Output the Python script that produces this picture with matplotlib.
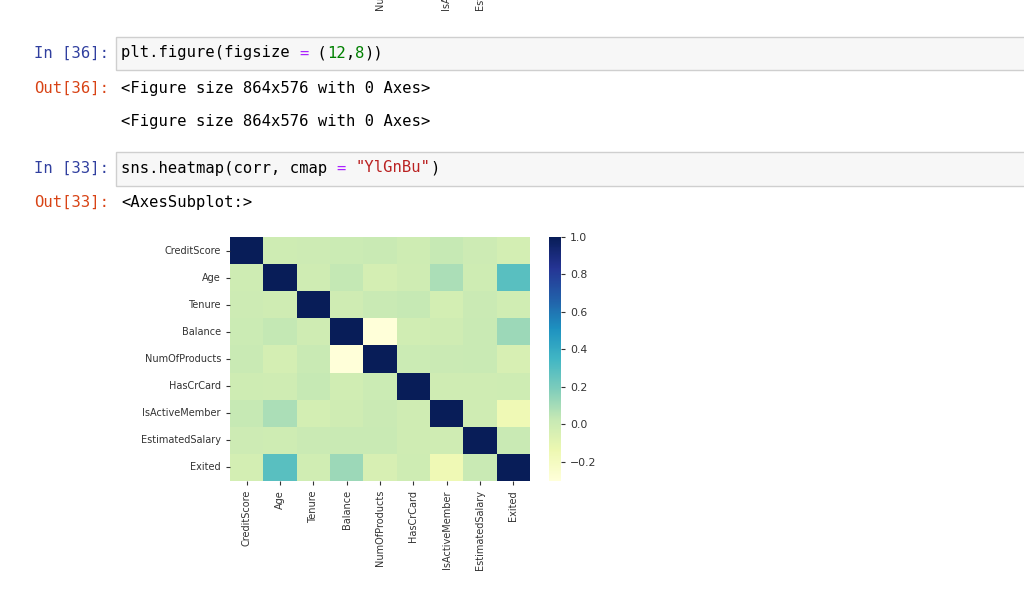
import numpy as np
import matplotlib
matplotlib.use("Agg")
import matplotlib.pyplot as plt
import matplotlib.patches as mpatches
import seaborn as sns

W, H = 1024, 589
labels = ["CreditScore", "Age", "Tenure", "Balance", "NumOfProducts",
          "HasCrCard", "IsActiveMember", "EstimatedSalary", "Exited"]
# upper triangle of the correlation matrix, row by row
upper = [
    [-0.004, 0.001, 0.006, 0.012, -0.005, 0.026, -0.001, -0.027],
    [-0.010, 0.028, -0.031, -0.012, 0.085, -0.007, 0.285],
    [-0.012, 0.013, 0.023, -0.028, 0.008, -0.014],
    [-0.304, -0.015, -0.010, 0.013, 0.119],
    [0.003, 0.010, 0.014, -0.048],
    [-0.012, -0.010, -0.007],
    [-0.011, -0.156],
    [0.012],
]

n = len(labels)
corr = np.eye(n)
for i, row in enumerate(upper):
    for k, v in enumerate(row):
        corr[i, i + 1 + k] = v
        corr[i + 1 + k, i] = v

fig = plt.figure(figsize=(W / 100, H / 100), dpi=100)
mono = "DejaVu Sans Mono"
fs = 11.2
cw = 0.602 * fs * 100 / 72  # char width in px


def px(x, y):
    return x / W, 1 - y / H


def code_line(x, y, pieces):
    off = 0
    for txt, col in pieces:
        fig.text(*px(x + off * cw, y), txt, color=col, family=mono, fontsize=fs, va="center")
        off += len(txt)


def cell_box(y0, y1):
    fig.patches.append(mpatches.Rectangle(px(116, y1), (1030 - 116) / W, (y1 - y0) / H,
                                          transform=fig.transFigure, facecolor="#f7f7f7",
                                          edgecolor="#cfcfcf", lw=1))


blue, red, black = "#303f9f", "#d84315", "#000000"
purple, green, strc = "#aa22ff", "#008000", "#ba2121"

# tick labels of a previous output, scrolled mostly out of view at the top
for x, t in [(380, "NumOfProducts"), (446, "IsActiveMember"), (480, "EstimatedSalary")]:
    fig.text(*px(x, 10), t, rotation=90, ha="center", va="bottom", fontsize=7, color="#333333")

cell_box(37, 70)
code_line(34, 53, [("In [36]:", blue)])
code_line(121, 53, [("plt.figure(figsize ", black), ("=", purple), (" (", black),
                    ("12", green), (",", black), ("8", green), ("))", black)])
code_line(34, 88, [("Out[36]:", red)])
code_line(121, 88, [("<Figure size 864x576 with 0 Axes>", black)])
code_line(121, 121, [("<Figure size 864x576 with 0 Axes>", black)])

cell_box(152, 186)
code_line(34, 168, [("In [33]:", blue)])
code_line(121, 168, [("sns.heatmap(corr, cmap ", black), ("=", purple), (" ", black),
                     ('"YlGnBu"', strc), (")", black)])
code_line(34, 202, [("Out[33]:", red)])
code_line(121, 202, [("<AxesSubplot:>", black)])

ax = fig.add_axes([230 / W, 1 - 481 / H, 300 / W, 244 / H])
cax = fig.add_axes([549 / W, 1 - 481 / H, 12 / W, 244 / H])
sns.heatmap(corr, cmap="YlGnBu", ax=ax, cbar_ax=cax, xticklabels=labels, yticklabels=labels)
ax.tick_params(labelsize=7, colors="#333333", length=3)
ax.set_xticklabels(labels, rotation=90)
ax.set_yticklabels(labels, rotation=0)
cax.tick_params(labelsize=7.8, colors="#333333", length=3)
cax.set_yticks([-0.2, 0.0, 0.2, 0.4, 0.6, 0.8, 1.0])

fig.savefig("out.png", dpi=100)
